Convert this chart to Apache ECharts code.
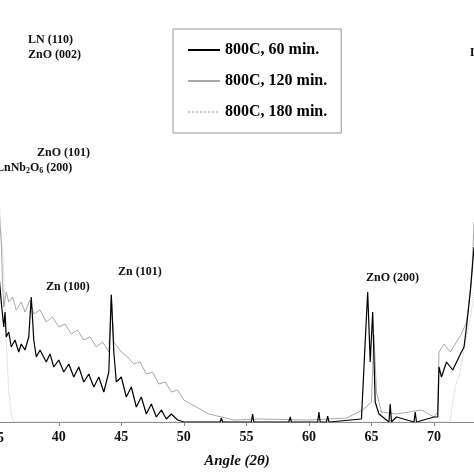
<!DOCTYPE html><html><head><meta charset="utf-8"><script src="https://cdn.jsdelivr.net/npm/echarts@6/dist/echarts.min.js"></script></head><body style="margin:0"><div id="c" style="width:474px;height:474px"></div><script>
const s60=[[35.0,157],[35.2,150],[35.4,120],[35.6,95],[35.7,110],[35.8,85],[36.0,90],[36.2,75],[36.5,82],[36.8,70],[37.0,78],[37.3,72],[37.6,85],[37.8,125],[38.0,82],[38.2,65],[38.5,72],[39.0,60],[39.3,68],[39.6,55],[40.0,62],[40.4,50],[40.8,58],[41.2,45],[41.6,55],[42.0,40],[42.4,48],[42.8,35],[43.2,45],[43.6,30],[44.0,50],[44.2,127],[44.4,70],[44.6,40],[45.0,45],[45.4,25],[45.8,35],[46.2,15],[46.6,25],[47.0,8],[47.4,18],[47.8,5],[48.2,12],[48.6,3],[49.0,8],[49.5,2],[50.0,0],[52.9,0],[53,4],[53.1,0],[55.4,0],[55.5,8],[55.6,0],[58.4,0],[58.5,5],[58.6,0],[60.7,0],[60.8,10],[60.9,0],[61.4,0],[61.5,6],[61.6,0],[64.2,3],[64.5,80],[64.7,130],[64.9,60],[65.1,110],[65.3,20],[65.6,8],[66.4,0],[66.5,18],[66.6,0],[67,5],[68.4,0],[68.5,10],[68.6,0],[70,5],[70.3,5],[70.4,55],[70.6,45],[71.0,60],[71.5,52],[72.0,65],[72.4,75],[72.6,95],[72.9,130],[73.2,175]];
const s120=[[35.0,235],[35.2,215],[35.4,180],[35.5,140],[35.6,115],[35.8,130],[36.0,120],[36.3,125],[36.6,112],[37.0,120],[37.3,110],[37.7,122],[38.0,108],[38.5,112],[39.0,100],[39.5,105],[40.0,95],[40.5,98],[41.0,88],[41.5,92],[42.0,82],[42.5,85],[43.0,75],[43.5,80],[44.0,70],[44.2,128],[44.4,80],[45.0,70],[45.5,65],[46,58],[46.5,60],[47,48],[47.5,50],[48,38],[48.5,40],[49,30],[49.5,32],[50,22],[51,15],[52,8],[53,5],[54,2],[56,3],[60,2],[63,4],[64.3,12],[65.0,20],[65.2,87],[65.4,30],[65.8,10],[67,8],[69,12],[70,5],[70.3,10],[70.4,70],[70.8,78],[71.3,70],[71.8,80],[72.2,88],[72.6,100],[73.0,140],[73.2,200]];
const s180=[[35.0,260],[35.3,210],[35.6,150],[35.8,80],[36.0,30],[36.2,8],[36.4,0],[71.3,0],[71.5,20],[71.8,40],[72.0,45],[72.3,65],[72.6,85],[73.0,110],[73.2,130]];
const names=['800C, 60 min.','800C, 120 min.','800C, 180 min.'];
const xTicks=[40,45,50,55,60,65,70];
const F='Liberation Serif';
const lbl=(t,x,y)=>({type:'text',left:x,top:y,style:{text:t,font:'bold 12px "Liberation Serif"',fill:'#111',textAlign:'center'}});
const ch=echarts.init(document.getElementById('c'));
ch.setOption({animation:false,
grid:{left:0,right:0,top:0,bottom:52},
xAxis:{type:'value',min:35.3,max:73.2,axisLine:{lineStyle:{color:'#888'}},axisTick:{lineStyle:{color:'#888'},length:4,customValues:xTicks},splitLine:{show:false},
 axisLabel:{color:'#111',fontFamily:F,fontWeight:'bold',fontSize:14,margin:8,customValues:xTicks},
 name:'Angle (2θ)',nameLocation:'middle',nameGap:32,nameTextStyle:{fontFamily:F,fontWeight:'bold',fontStyle:'italic',fontSize:15,color:'#111'}},
yAxis:{type:'value',min:0,max:422,show:false},
legend:{orient:'vertical',left:173,top:29,itemWidth:32,itemHeight:2,itemGap:15,padding:[13,14,13,14],borderColor:'#999',borderWidth:1,
 textStyle:{fontFamily:F,fontWeight:'bold',fontSize:16,color:'#000'},data:names},
series:[
 {name:names[2],type:'line',data:s180,symbol:'none',lineStyle:{color:'#c8c8c8',width:1,type:'dotted'},itemStyle:{color:'#c8c8c8'}},
 {name:names[1],type:'line',data:s120,symbol:'none',lineStyle:{color:'#a8a8a8',width:1},itemStyle:{color:'#a8a8a8'}},
 {name:names[0],type:'line',data:s60,symbol:'none',lineStyle:{color:'#000',width:1.2},itemStyle:{color:'#000'}}],
graphic:[{type:'text',left:-3,top:431,style:{text:'5',font:'bold 14px "Liberation Serif"',fill:'#111'}},
 lbl('LN (110)',28,34),lbl('ZnO (002)',28,49),lbl('ZnO (101)',37,147),
 {type:'text',left:-4,top:162,style:{text:'LnNb{s|2}O{s|6} (200)',font:'bold 12px "Liberation Serif"',fill:'#111',rich:{s:{fontSize:8,fontWeight:'bold',fontFamily:F,verticalAlign:'bottom',padding:[6,0,0,0]}}}},
 lbl('Zn (100)',46,281),lbl('Zn (101)',118,266),lbl('ZnO (200)',366,272),lbl('LN',470,47)]
});
</script></body></html>
